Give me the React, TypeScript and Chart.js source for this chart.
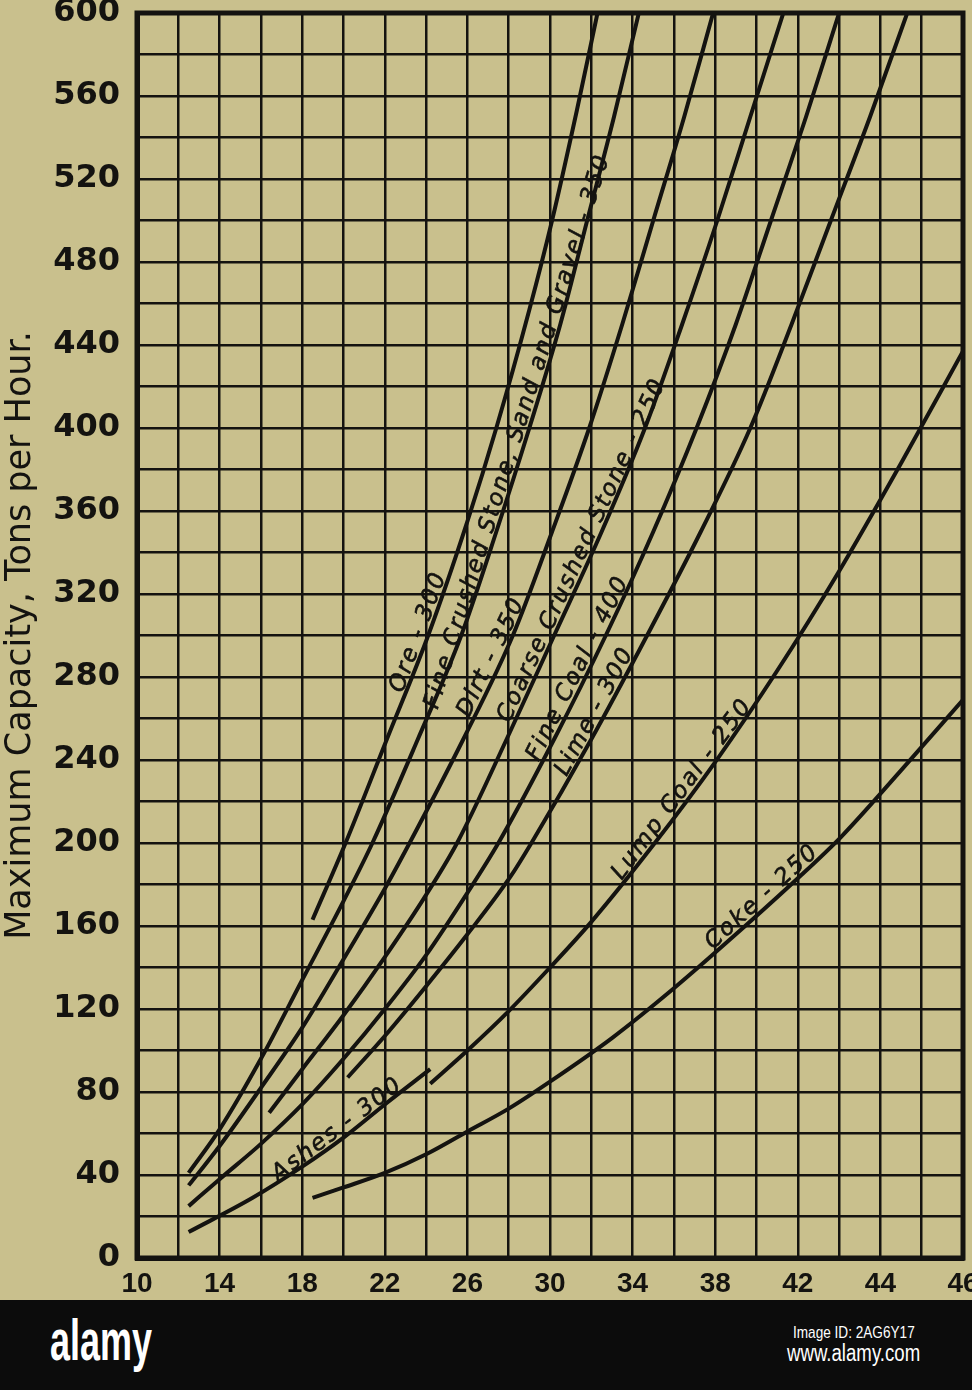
import React, { useEffect, useRef } from "react";
import { Chart, registerables } from "chart.js";

Chart.register(...registerables);

// ---------- data ----------
const widthTickLabels = ["10", "14", "18", "22", "26", "30", "34", "38", "42", "44", "46"];
const capacityTickLabels = ["0", "40", "80", "120", "160", "200", "240", "280", "320", "360", "400", "440", "480", "520", "560", "600"];

const oreWidth = [18.5, 20.1, 22.1, 24.1, 26.0, 27.4, 29.0, 30.1, 31.3, 32.3];
const oreTons = [163, 200, 250, 300, 355, 400, 457, 500, 553, 600];

const fineStoneWidth = [12.5, 14, 16, 18, 20, 21.4, 23.6, 25.7, 27.4, 29.0, 30.5, 31.8, 33.1, 34.3];
const fineStoneTons = [41, 62, 96, 134, 172, 200, 250, 300, 350, 400, 450, 500, 550, 600];

const dirtWidth = [12.5, 14, 16, 18, 20, 22, 23.2, 25.8, 28.2, 30.1, 31.9, 33.5, 35.0, 36.5, 37.9];
const dirtTons = [35, 54, 82, 111, 144, 178, 200, 250, 300, 350, 400, 450, 500, 550, 600];

const coarseStoneWidth = [16.4, 18, 20, 22, 24, 25.5, 27.9, 30.2, 32.5, 34.6, 36.4, 38.1, 39.7, 41.3];
const coarseStoneTons = [70, 91, 117, 145, 175, 200, 250, 300, 350, 400, 450, 500, 550, 600];

const fineCoalWidth = [12.5, 14, 16, 18, 20, 22, 24, 26, 27.5, 30.2, 32.7, 35.0, 37.1, 39.0, 40.7, 42.4, 44.0];
const fineCoalTons = [25, 38, 55, 74, 96, 120, 146, 176, 200, 250, 300, 350, 400, 450, 500, 550, 600];

const limeWidth = [20.2, 22, 24, 26, 28.1, 29.1, 32.0, 34.7, 37.3, 39.7, 41.7, 43.6, 45.5, 47.3];
const limeTons = [87, 107, 131, 156, 184, 200, 250, 300, 350, 400, 450, 500, 550, 600];

const ashesWidth = [12.5, 15.6, 18, 20, 22, 24.2];
const ashesTons = [12.5, 29, 44, 58, 74, 91];

const lumpCoalWidth = [24.2, 26, 28, 30, 32, 35, 38, 41, 44, 47, 50];
const lumpCoalTons = [84, 100, 119, 140, 162, 199, 239, 283, 331, 383, 437];

const cokeWidth = [18.5, 20, 22, 24, 26, 28, 30, 33, 36, 39, 42, 44.1, 47, 50];
const cokeTons = [29, 34, 41, 50, 61, 72, 85, 106, 130, 156, 183, 203, 235, 269];

const seriesNames = [
  "Ore - 300",
  "Fine Crushed Stone, Sand and Gravel - 350",
  "Dirt - 350",
  "Coarse Crushed Stone - 250",
  "Fine Coal - 400",
  "Lime - 300",
  "Ashes - 300",
  "Lump Coal - 250",
  "Coke - 250",
];
const seriesWidths = [oreWidth, fineStoneWidth, dirtWidth, coarseStoneWidth, fineCoalWidth, limeWidth, ashesWidth, lumpCoalWidth, cokeWidth];
const seriesTons = [oreTons, fineStoneTons, dirtTons, coarseStoneTons, fineCoalTons, limeTons, ashesTons, lumpCoalTons, cokeTons];

// where along each curve (belt width) its label sits
const labelAt = [24.1, 28.9, 27.6, 32.0, 31.8, 32.6, 20.0, 36.8, 40.6];

// ---------- styling ----------
const INK = "#141310";
const PAPER = "#c9c08d";
const TICK_FONT = "'DejaVu Sans', sans-serif";
const X_TICK_FONT = "'Liberation Sans Narrow', 'Liberation Sans', sans-serif";
const LABEL_FONT = "italic 23px 'DejaVu Sans', sans-serif";

const framePlugin = {
  id: "frame",
  afterDraw(chart: any) {
    const { ctx, chartArea } = chart;
    ctx.save();
    ctx.strokeStyle = INK;
    ctx.lineWidth = 5;
    ctx.strokeRect(chartArea.left, chartArea.top, chartArea.right - chartArea.left, chartArea.bottom - chartArea.top);
    ctx.restore();
  },
};

function interp(pts: { x: number; y: number }[], xv: number) {
  for (let i = 0; i < pts.length - 1; i++) {
    if (xv >= pts[i].x && xv <= pts[i + 1].x) {
      const t = (xv - pts[i].x) / (pts[i + 1].x - pts[i].x);
      return pts[i].y + t * (pts[i + 1].y - pts[i].y);
    }
  }
  return pts[pts.length - 1].y;
}

const curveLabelPlugin = {
  id: "curveLabels",
  afterDatasetsDraw(chart: any) {
    const { ctx } = chart;
    const xs = chart.scales.x;
    const ys = chart.scales.y;
    chart.data.datasets.forEach((ds: any, i: number) => {
      const pts = ds.data as { x: number; y: number }[];
      const at = labelAt[i];
      const x0 = xs.getPixelForValue(at - 0.5);
      const y0 = ys.getPixelForValue(interp(pts, at - 0.5));
      const x1 = xs.getPixelForValue(at + 0.5);
      const y1 = ys.getPixelForValue(interp(pts, at + 0.5));
      const cx = xs.getPixelForValue(at);
      const cy = ys.getPixelForValue(interp(pts, at));
      const ang = Math.atan2(y1 - y0, x1 - x0);
      ctx.save();
      ctx.translate(cx, cy);
      ctx.rotate(ang);
      ctx.font = LABEL_FONT;
      (ctx as any).letterSpacing = "2px";
      ctx.fillStyle = INK;
      ctx.strokeStyle = INK;
      ctx.lineWidth = 0.6;
      ctx.textAlign = "center";
      ctx.textBaseline = "alphabetic";
      ctx.fillText(ds.label, 0, -4);
      ctx.strokeText(ds.label, 0, -4);
      ctx.restore();
    });
  },
};

function CapacityChart() {
  const ref = useRef<HTMLCanvasElement>(null);
  useEffect(() => {
    if (!ref.current) return;
    const datasets = seriesNames.map((name, i) => ({
      label: name,
      data: seriesWidths[i].map((w, j) => ({ x: w, y: seriesTons[i][j] })),
      borderColor: INK,
      borderWidth: 4,
      pointRadius: 0,
      fill: false,
      cubicInterpolationMode: "monotone" as const,
    }));
    const chart = new Chart(ref.current, {
      type: "line",
      data: { datasets },
      plugins: [framePlugin, curveLabelPlugin],
      options: {
        animation: false,
        responsive: false,
        devicePixelRatio: 1,
        layout: { padding: { top: 13, right: 9, bottom: 0, left: 0 } },
        plugins: { legend: { display: false }, tooltip: { enabled: false } },
        scales: {
          x: {
            type: "linear",
            min: 10,
            max: 50,
            ticks: {
              stepSize: 2,
              autoSkip: false,
              maxRotation: 0,
              padding: 9,
              color: INK,
              font: { family: X_TICK_FONT, size: 28, weight: "bold" },
              callback: (v: any) => {
                const n = Math.round(Number(v)) - 10;
                return n % 4 === 0 ? widthTickLabels[n / 4] : "";
              },
            },
            grid: { color: INK, lineWidth: 2.5, drawTicks: false },
            border: { display: true, color: INK, width: 5 },
            afterFit: (s: any) => {
              s.height = 42;
              s.paddingLeft = 0;
              s.paddingRight = 0;
            },
          },
          y: {
            min: 0,
            max: 600,
            ticks: {
              stepSize: 20,
              autoSkip: false,
              padding: 17,
              color: INK,
              font: { family: TICK_FONT, size: 32, weight: "bold" },
              callback: (v: any) => {
                const n = Math.round(Number(v));
                return n % 40 === 0 ? capacityTickLabels[n / 40] : "";
              },
            },
            grid: { color: INK, lineWidth: 2.5, drawTicks: false },
            border: { display: true, color: INK, width: 5 },
            title: {
              display: true,
              text: "Maximum Capacity, Tons per Hour.",
              color: INK,
              font: { family: TICK_FONT, size: 35 },
              padding: { top: 0, bottom: 0 },
            },
            afterFit: (s: any) => {
              s.width = 137;
              s.paddingTop = 0;
              s.paddingBottom = 0;
            },
          },
        },
      } as any,
    });
    return () => chart.destroy();
  }, []);
  return <canvas ref={ref} width={972} height={1300} style={{ display: "block", width: 972, height: 1300 }} />;
}

export default function App() {
  return (
    <div style={{ position: "absolute", left: 0, top: 0, width: 972, height: 1390, background: PAPER, overflow: "hidden" }}>
      <CapacityChart />
      <div style={{ position: "absolute", left: 0, top: 1300, width: 972, height: 90, background: "#0c0c0c" }}>
        <div
          style={{
            position: "absolute",
            left: 50,
            top: 11,
            color: "#fff",
            font: "bold 58px 'Liberation Sans', sans-serif",
            lineHeight: "58px",
            transform: "scaleX(0.62)",
            transformOrigin: "left top",
            whiteSpace: "nowrap",
          }}
        >
          alamy
        </div>
        <div
          style={{
            position: "absolute",
            left: 793,
            top: 24,
            color: "#fff",
            font: "17px 'Liberation Sans', sans-serif",
            lineHeight: "17px",
            transform: "scaleX(0.8)",
            transformOrigin: "left top",
            whiteSpace: "nowrap",
          }}
        >
          Image ID: 2AG6Y17
        </div>
        <div
          style={{
            position: "absolute",
            left: 787,
            top: 42,
            color: "#fff",
            font: "23px 'Liberation Sans', sans-serif",
            lineHeight: "23px",
            transform: "scaleX(0.81)",
            transformOrigin: "left top",
            whiteSpace: "nowrap",
          }}
        >
          www.alamy.com
        </div>
      </div>
    </div>
  );
}
